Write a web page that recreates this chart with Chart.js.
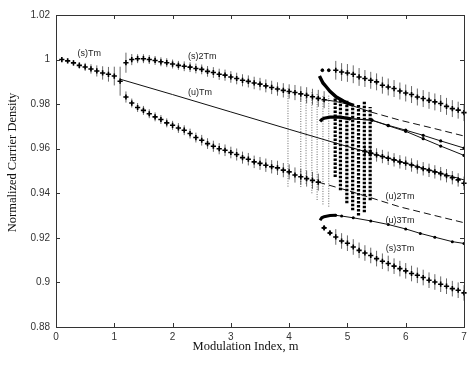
<!DOCTYPE html>
<html>
<head>
<meta charset="utf-8">
<script src="https://cdn.jsdelivr.net/npm/chart.js@4.4.0/dist/chart.umd.min.js"></script>
<style>
    html, body { margin: 0; padding: 0; background: #fff; }
    #chart { display: block; }
</style>
</head>
<body>
<canvas id="chart" width="474" height="365"></canvas>
<script>

// (s)Tm, stable period-one branch
let sTmX = [0.1, 0.2, 0.3, 0.4, 0.5, 0.6, 0.7, 0.8, 0.9, 1.0, 1.1];
let sTmY = [1.0, 0.9994, 0.9985, 0.9974, 0.9967, 0.9958, 0.9949, 0.994, 0.9934, 0.9926, 0.9903];
let sTmErr = [0.0008, 0.001, 0.0012, 0.0015, 0.0018, 0.0021, 0.0025, 0.003, 0.0033, 0.0042, 0.0065];

// (s)2Tm, upper and lower branches
let s2UpX = [1.2, 1.3, 1.4, 1.5, 1.6, 1.7, 1.8, 1.9, 2.0, 2.1, 2.2, 2.3, 2.4, 2.5, 2.6, 2.7, 2.8, 2.9, 3.0, 3.1, 3.2, 3.3, 3.4, 3.5, 3.6, 3.7, 3.8, 3.9, 4.0, 4.1, 4.2, 4.3, 4.4, 4.5, 4.6];
let s2UpY = [0.9986, 1.0, 1.0004, 1.0004, 1.0, 0.9996, 0.999, 0.9986, 0.998, 0.9974, 0.997, 0.9966, 0.996, 0.9956, 0.9947, 0.9942, 0.9934, 0.993, 0.9922, 0.9915, 0.9907, 0.9902, 0.9895, 0.989, 0.9882, 0.9875, 0.9868, 0.9862, 0.9857, 0.9852, 0.9846, 0.984, 0.9833, 0.9826, 0.982];
let s2UpErr = [0.0045, 0.0025, 0.002, 0.002, 0.002, 0.002, 0.002, 0.002, 0.002, 0.002, 0.0022, 0.0022, 0.0022, 0.0022, 0.0024, 0.0024, 0.0025, 0.0025, 0.0026, 0.0026, 0.0027, 0.0027, 0.0028, 0.0028, 0.0029, 0.003, 0.003, 0.0032, 0.0032, 0.0034, 0.0034, 0.0036, 0.0036, 0.0038, 0.0038];

let s2LowX = [1.2, 1.3, 1.4, 1.5, 1.6, 1.7, 1.8, 1.9, 2.0, 2.1, 2.2, 2.3, 2.4, 2.5, 2.6, 2.7, 2.8, 2.9, 3.0, 3.1, 3.2, 3.3, 3.4, 3.5, 3.6, 3.7, 3.8, 3.9, 4.0, 4.1, 4.2, 4.3, 4.4, 4.5];
let s2LowY = [0.9832, 0.9805, 0.9785, 0.9772, 0.9757, 0.9743, 0.9731, 0.9716, 0.9705, 0.9693, 0.9683, 0.9668, 0.965, 0.9638, 0.9623, 0.9611, 0.96, 0.9593, 0.9583, 0.9574, 0.956, 0.9553, 0.9541, 0.9534, 0.9526, 0.9519, 0.9514, 0.9504, 0.9496, 0.9482, 0.9474, 0.9466, 0.9458, 0.945];
let s2LowErr = [0.0025, 0.002, 0.002, 0.002, 0.002, 0.002, 0.002, 0.002, 0.002, 0.0022, 0.0022, 0.0022, 0.0022, 0.0024, 0.0024, 0.0025, 0.0025, 0.0026, 0.0026, 0.0027, 0.0027, 0.0028, 0.0028, 0.0029, 0.003, 0.003, 0.0032, 0.0032, 0.0034, 0.0034, 0.0036, 0.0036, 0.0038, 0.0038];

// stable branch above the chaotic window
let upDotX = [4.57, 4.68];
let upDotY = [0.9952, 0.9952];
let sUpX = [4.8, 4.9, 5.0, 5.1, 5.2, 5.3, 5.4, 5.5, 5.6, 5.7, 5.8, 5.9, 6.0, 6.1, 6.2, 6.3, 6.4, 6.5, 6.6, 6.7, 6.8, 6.9, 7.0];
let sUpY = [0.9952, 0.9944, 0.994, 0.9934, 0.9922, 0.9915, 0.9907, 0.99, 0.9885, 0.9877, 0.987, 0.9859, 0.985, 0.9843, 0.9832, 0.9825, 0.9817, 0.981, 0.9803, 0.979, 0.978, 0.9773, 0.9762];
let sUpErr = [0.0042, 0.004, 0.004, 0.004, 0.004, 0.0038, 0.0038, 0.0038, 0.0038, 0.0038, 0.0038, 0.0038, 0.0038, 0.0038, 0.0038, 0.0038, 0.0038, 0.0038, 0.0038, 0.0038, 0.0038, 0.0038, 0.0038];

// points with spread lying on the (u)Tm line past the chaos
let rTmX = [5.3, 5.4, 5.5, 5.6, 5.7, 5.8, 5.9, 6.0, 6.1, 6.2, 6.3, 6.4, 6.5, 6.6, 6.7, 6.8, 6.9, 7.0];
let rTmY = [0.9588, 0.958, 0.9572, 0.9565, 0.9557, 0.955, 0.9541, 0.9535, 0.9527, 0.9518, 0.951, 0.9503, 0.9496, 0.9488, 0.9479, 0.947, 0.946, 0.9445];
let rTmErr = [0.003, 0.003, 0.003, 0.003, 0.003, 0.003, 0.003, 0.003, 0.003, 0.003, 0.003, 0.003, 0.003, 0.003, 0.003, 0.003, 0.003, 0.003];

// (s)3Tm
let s3X = [4.6, 4.7, 4.8, 4.9, 5.0, 5.1, 5.2, 5.3, 5.4, 5.5, 5.6, 5.7, 5.8, 5.9, 6.0, 6.1, 6.2, 6.3, 6.4, 6.5, 6.6, 6.7, 6.8, 6.9, 7.0];
let s3Y = [0.9245, 0.9222, 0.9204, 0.9186, 0.9176, 0.9159, 0.9144, 0.9132, 0.9121, 0.9107, 0.9095, 0.9085, 0.9073, 0.9062, 0.9052, 0.904, 0.9032, 0.9022, 0.901, 0.9002, 0.8992, 0.8983, 0.8972, 0.8965, 0.8953];
let s3Err = [0, 0, 0.0035, 0.0035, 0.0035, 0.0035, 0.0035, 0.0035, 0.0035, 0.0035, 0.0035, 0.0035, 0.0035, 0.0035, 0.0035, 0.0035, 0.0035, 0.0035, 0.0035, 0.0035, 0.0035, 0.0035, 0.0035, 0.0035, 0.0035];

// unstable and continuation lines
let uTmX = [1.1, 2, 3, 4, 5, 6, 7];
let uTmY = [0.9912, 0.9843, 0.9765, 0.9687, 0.961, 0.9535, 0.946];
let up2ContX = [4.6, 4.8, 5.0, 5.2, 5.4];
let up2ContY = [0.982, 0.9812, 0.98, 0.9783, 0.9765];
let u2UpX = [5.4, 5.9, 6.5, 7.0];
let u2UpY = [0.9765, 0.9728, 0.969, 0.9657];
let u2LowX = [4.5, 5.0, 5.9, 6.5, 7.0];
let u2LowY = [0.945, 0.9413, 0.9339, 0.93, 0.9268];
let u3HeadX = [4.53, 4.56, 4.6, 4.7, 4.8];
let u3HeadY = [0.9279, 0.929, 0.9295, 0.93, 0.9301];
let u3X = [4.8, 4.9, 5.1, 5.4, 5.7, 6.0, 6.25, 6.5, 6.8, 7.0];
let u3Y = [0.9301, 0.9298, 0.929, 0.9276, 0.926, 0.924, 0.922, 0.9203, 0.9183, 0.9175];

// heavy curves at the start of the chaotic window
let curveAX = [4.52, 4.58, 4.64, 4.7, 4.81, 4.93, 5.01, 5.1];
let curveAY = [0.9926, 0.9895, 0.9877, 0.9858, 0.9832, 0.9814, 0.9803, 0.9795];
let curveBX = [4.53, 4.56, 4.6, 4.7, 4.87, 5.04];
let curveBY = [0.9723, 0.9731, 0.9737, 0.9742, 0.9742, 0.9735];
let pathAX = [5.04, 5.42, 5.7, 6.0, 6.3, 6.6, 7.0];
let pathAY = [0.9735, 0.9728, 0.9705, 0.9683, 0.966, 0.9635, 0.9603];
let pathBX = [5.04, 5.42, 5.7, 6.0, 6.3, 6.6, 7.0];
let pathBY = [0.9735, 0.9728, 0.9703, 0.9678, 0.9645, 0.9612, 0.957];

// chaotic columns
let lightColX = [3.98, 4.2, 4.29, 4.39, 4.48, 4.58, 4.68];
let lightColLo = [0.943, 0.9428, 0.9443, 0.94, 0.937, 0.935, 0.934];
let lightColHi = [0.987, 0.986, 0.986, 0.9855, 0.985, 0.984, 0.984];
let heavyColX = [4.79, 4.88, 4.99, 5.09, 5.19, 5.29, 5.39];
let heavyColLo = [0.9473, 0.9414, 0.9355, 0.9324, 0.93, 0.9315, 0.9369];
let heavyColHi = [0.983, 0.9825, 0.9817, 0.9802, 0.9802, 0.9817, 0.9787];

// curve labels
let labelText = ["(s)Tm", "(s)2Tm", "(u)Tm", "(u)2Tm", "(u)3Tm", "(s)3Tm"];
let labelX = [0.57, 2.51, 2.47, 5.9, 5.9, 5.9];
let labelY = [1.0026, 1.0015, 0.9853, 0.9386, 0.9279, 0.9152];

let xTicks = [0, 1, 2, 3, 4, 5, 6, 7];
let yTicks = [0.88, 0.9, 0.92, 0.94, 0.96, 0.98, 1.0, 1.02];


function pts(xs, ys)
{
    return xs.map((x, i) => ({x: x, y: ys[i]}));
}

function bars(xs, lows, highs)
{
    let out = [];
    for (let i = 0; i < xs.length; i++)
    {
        if (highs[i] - lows[i] <= 0) continue;
        out.push({x: xs[i], y: lows[i]}, {x: xs[i], y: highs[i]}, {x: xs[i], y: null});
    }
    return out;
}

function errBars(xs, ys, errs)
{
    return bars(xs, ys.map((y, i) => y - errs[i]), ys.map((y, i) => y + errs[i]));
}

function line(data, extra)
{
    return Object.assign({
        data: data,
        showLine: true,
        spanGaps: false,
        borderColor: "#111",
        borderWidth: 1,
        pointRadius: 0,
        fill: false
    }, extra || {});
}

let markerData = [].concat(
    pts(sTmX, sTmY), pts(s2UpX, s2UpY), pts(s2LowX, s2LowY),
    pts(sUpX, sUpY), pts(rTmX, rTmY), pts(s3X, s3Y)
);
let dotData = [].concat(pts(upDotX, upDotY), pts(s3X.slice(0, 2), s3Y.slice(0, 2)));
let barData = [].concat(
    errBars(sTmX, sTmY, sTmErr), errBars(s2UpX, s2UpY, s2UpErr), errBars(s2LowX, s2LowY, s2LowErr),
    errBars(sUpX, sUpY, sUpErr), errBars(rTmX, rTmY, rTmErr), errBars(s3X, s3Y, s3Err)
);

let datasets = [
    {
        data: markerData, showLine: false, pointStyle: "cross", pointRadius: 2.6,
        pointBorderWidth: 1.6, pointBorderColor: "#000", clip: false
    },
    {
        data: dotData, showLine: false, pointStyle: "circle", pointRadius: 1.4,
        pointBackgroundColor: "#000", pointBorderColor: "#000", clip: false
    },
    line(pts(curveAX, curveAY), {borderWidth: 3.4, borderColor: "#000"}),
    line(pts(curveBX, curveBY), {borderWidth: 3.2, borderColor: "#000"}),
    line(pts(u3HeadX, u3HeadY), {borderWidth: 3, borderColor: "#000"}),
    line(pts(u3X, u3Y), {pointRadius: 1.5, pointBackgroundColor: "#000", pointBorderWidth: 0}),
    line(pts(pathAX, pathAY), {pointRadius: 1.6, pointBackgroundColor: "#000", pointBorderWidth: 0}),
    line(pts(pathBX, pathBY), {pointRadius: 1.6, pointBackgroundColor: "#000", pointBorderWidth: 0}),
    line(pts(uTmX, uTmY)),
    line(pts(up2ContX, up2ContY)),
    line(pts(u2UpX, u2UpY), {borderDash: [7, 4]}),
    line(pts(u2LowX, u2LowY), {borderDash: [7, 4]}),
    line(bars(heavyColX, heavyColLo, heavyColHi), {borderWidth: 3.2, borderColor: "#000", borderDash: [2.5, 1.5]}),
    line(bars(lightColX, lightColLo, lightColHi), {borderWidth: 1, borderColor: "rgba(0,0,0,0.6)", borderDash: [1, 1.5]}),
    line(barData, {borderWidth: 1, borderColor: "rgba(40,40,40,0.7)", clip: false})
];

let framePlugin = {
    id: "frame",
    afterDraw(chart)
    {
        let ctx = chart.ctx;
        let a = chart.chartArea;
        let xs = chart.scales.x;
        let ys = chart.scales.y;
        ctx.save();
        ctx.strokeStyle = "#333";
        ctx.lineWidth = 1;
        ctx.strokeRect(a.left + 0.5, a.top + 0.5, a.right - a.left, a.bottom - a.top);
        ctx.beginPath();
        xTicks.forEach(v =>
        {
            let px = Math.round(xs.getPixelForValue(v)) + 0.5;
            ctx.moveTo(px, a.bottom); ctx.lineTo(px, a.bottom - 4);
            ctx.moveTo(px, a.top); ctx.lineTo(px, a.top + 4);
        });
        yTicks.forEach(v =>
        {
            let py = Math.round(ys.getPixelForValue(v)) + 0.5;
            ctx.moveTo(a.left, py); ctx.lineTo(a.left + 4, py);
            ctx.moveTo(a.right, py); ctx.lineTo(a.right - 4, py);
        });
        ctx.stroke();

        // curve labels
        ctx.fillStyle = "#222";
        ctx.font = "9px 'Liberation Sans', Arial, sans-serif";
        ctx.textAlign = "center";
        ctx.textBaseline = "middle";
        labelText.forEach((t, i) =>
        {
            ctx.fillText(t, xs.getPixelForValue(labelX[i]), ys.getPixelForValue(labelY[i]));
        });

        // axis titles
        ctx.fillStyle = "#111";
        ctx.font = "12.5px 'Liberation Serif', 'Times New Roman', serif";
        ctx.fillText("Modulation Index, m", 245.5, 347);
        ctx.translate(13, 162.5);
        ctx.rotate(-Math.PI / 2);
        ctx.fillText("Normalized Carrier Density", 0, 0);
        ctx.restore();
    }
};

let chartElement = document.getElementById("chart").getContext("2d");

let bifChart = new Chart(chartElement,
    {
        type: "scatter",
        data: {datasets: datasets},
        options:
            {
                responsive: false,
                animation: false,
                events: [],
                layout: {padding: {left: 0, top: 15, right: 10, bottom: 0}},
                plugins: {legend: {display: false}, tooltip: {enabled: false}},
                scales:
                    {
                        x:
                            {
                                type: "linear",
                                min: 0,
                                max: 7,
                                afterFit: s => { s.height = 38; },
                                grid: {display: false, drawTicks: false},
                                border: {display: false},
                                ticks:
                                    {
                                        stepSize: 1,
                                        padding: 4,
                                        color: "#333",
                                        font: {family: "'Liberation Sans', Arial, sans-serif", size: 10}
                                    }
                            },
                        y:
                            {
                                type: "linear",
                                min: 0.88,
                                max: 1.02,
                                afterFit: s => { s.width = 56; },
                                grid: {display: false, drawTicks: false},
                                border: {display: false},
                                ticks:
                                    {
                                        stepSize: 0.02,
                                        padding: 6,
                                        color: "#333",
                                        font: {family: "'Liberation Sans', Arial, sans-serif", size: 10},
                                        callback: v => String(Number(v.toFixed(2)))
                                    }
                            }
                    }
            },
        plugins: [framePlugin]
    });

</script>
</body>
</html>
